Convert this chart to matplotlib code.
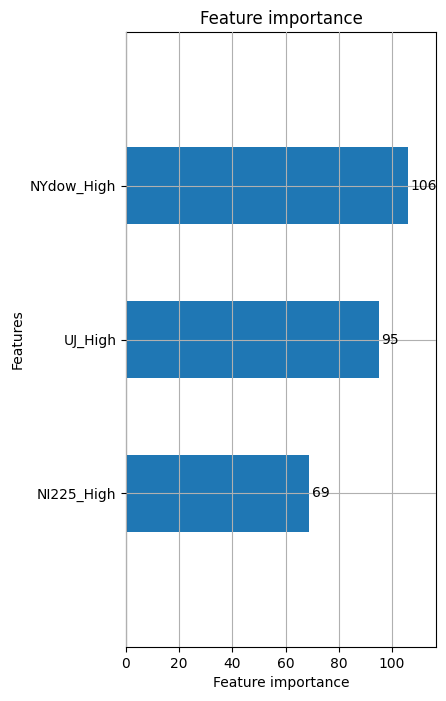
import matplotlib
matplotlib.use('Agg')
import matplotlib.pyplot as plt

features = ['NI225_High', 'UJ_High', 'NYdow_High']
importance = [69, 95, 106]

fig = plt.figure(figsize=(4.46, 7.01), dpi=100)
ax = fig.add_axes([126/446, 1 - 647/701, 310/446, 615/701])

ylocs = list(range(len(features)))
ax.barh(ylocs, importance, align='center', height=0.5, color='#1f77b4')
for x, y in zip(importance, ylocs):
    ax.text(x + 1, y, str(x), va='center')

ax.set_yticks(ylocs)
ax.set_yticklabels(features)
ax.set_xlim(0, max(importance) * 1.1)
ax.set_ylim(-1, len(features))
ax.grid(True)
ax.set_axisbelow(False)
ax.set_title('Feature importance')
ax.set_xlabel('Feature importance')
ax.set_ylabel('Features')

fig.savefig('out.png', dpi=100)
